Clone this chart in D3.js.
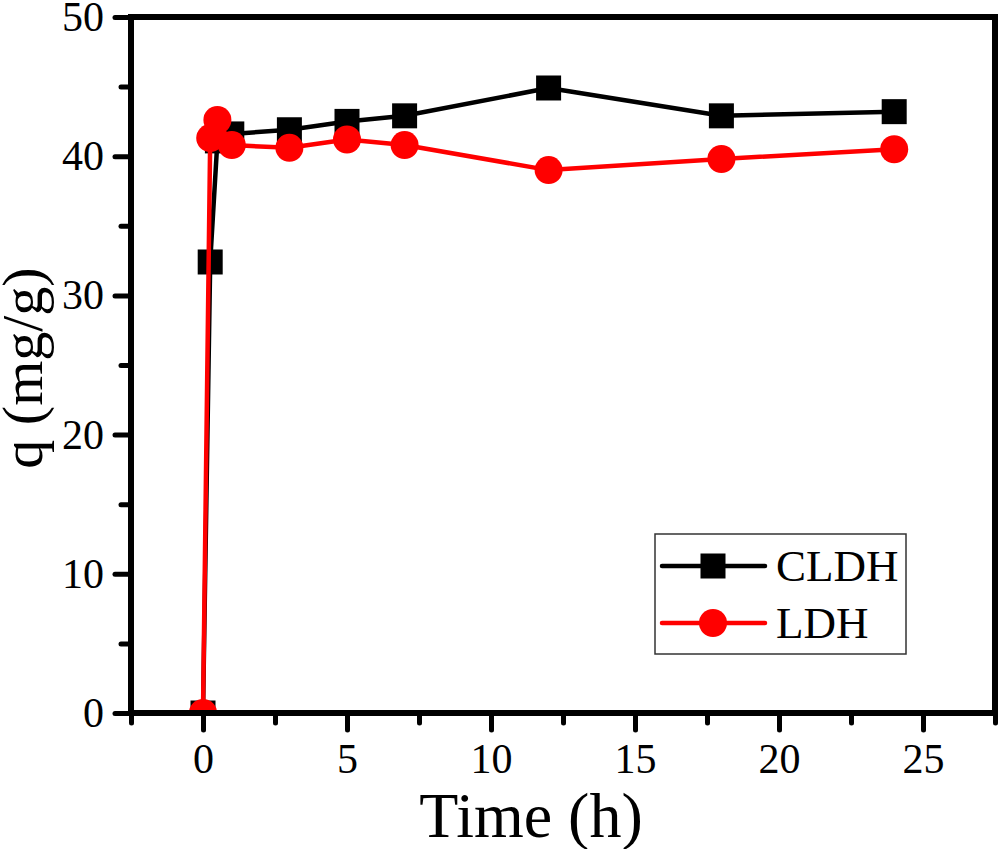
<!DOCTYPE html>
<html>
<head>
<meta charset="utf-8">
<script src="https://cdn.jsdelivr.net/npm/d3@7"></script>
<style>
  body { margin: 0; background: #fff; }
  text { font-family: "Liberation Serif", "Times New Roman", serif; fill: #000; }
</style>
</head>
<body>
<svg id="mainChart" width="1000" height="849"></svg>
<script>
// data
var timeCLDH = [0, 0.25, 0.5, 1, 3, 5, 7, 12, 18, 24];
var qCLDH = [0, 32.4, 41.1, 41.6, 41.9, 42.5, 42.9, 44.9, 42.9, 43.2];
var timeLDH = [0, 0.25, 0.5, 1, 3, 5, 7, 12, 18, 24];
var qLDH = [0, 41.3, 42.6, 40.8, 40.6, 41.2, 40.8, 39.0, 39.8, 40.5];
var xMajor = [0, 5, 10, 15, 20, 25];
var xMinor = [-2.5, 2.5, 7.5, 12.5, 17.5, 22.5, 27.5];
var yMajor = [0, 10, 20, 30, 40, 50];
var yMinor = [5, 15, 25, 35, 45];

var serif = "'Liberation Serif', 'Times New Roman', serif";
var svg = d3.select("#mainChart");
var plotLeft = 131, plotRight = 995, plotTop = 17, plotBottom = 713;

var x = d3.scaleLinear().domain([-2.5, 27.5]).range([plotLeft, plotRight]);
var y = d3.scaleLinear().domain([0, 50]).range([plotBottom, plotTop]);

function pts(xs, ys) {
  return xs.map(function(d, i) { return [d, ys[i]]; });
}
var series = [
  { name: "CLDH", color: "#000", shape: "square", data: pts(timeCLDH, qCLDH) },
  { name: "LDH", color: "#ff0000", shape: "circle", data: pts(timeLDH, qLDH) }
];

svg.append("defs").append("clipPath").attr("id", "plotClip")
  .append("rect")
  .attr("x", plotLeft).attr("y", plotTop)
  .attr("width", plotRight - plotLeft).attr("height", plotBottom - plotTop);

var line = d3.line()
  .x(function(d) { return x(d[0]); })
  .y(function(d) { return y(d[1]); });

var plot = svg.append("g").attr("clip-path", "url(#plotClip)");

series.forEach(function(s) {
  var g = plot.append("g");
  g.append("path")
    .datum(s.data)
    .attr("d", line)
    .attr("fill", "none")
    .attr("stroke", s.color)
    .attr("stroke-width", 4.5)
    .attr("stroke-linejoin", "round");
  if (s.shape === "square") {
    g.selectAll("rect").data(s.data).enter().append("rect")
      .attr("x", function(d) { return x(d[0]) - 12.5; })
      .attr("y", function(d) { return y(d[1]) - 12.5; })
      .attr("width", 25).attr("height", 25)
      .attr("fill", s.color);
  } else {
    g.selectAll("circle").data(s.data).enter().append("circle")
      .attr("cx", function(d) { return x(d[0]); })
      .attr("cy", function(d) { return y(d[1]); })
      .attr("r", 14)
      .attr("fill", s.color);
  }
});

// axes
function styleAxis(g) {
  g.attr("font-family", null);
  g.select(".domain").remove();
  g.selectAll(".tick line")
    .attr("stroke", "#000")
    .attr("stroke-width", 5)
    .attr("stroke-linecap", "round");
  g.selectAll(".tick text")
    .style("font-family", serif)
    .style("font-size", "42px");
}

svg.append("g")
  .attr("transform", "translate(0," + plotBottom + ")")
  .call(d3.axisBottom(x).tickValues(xMinor).tickSize(10).tickFormat(""))
  .call(styleAxis);
svg.append("g")
  .attr("transform", "translate(0," + plotBottom + ")")
  .call(d3.axisBottom(x).tickValues(xMajor).tickSize(17).tickPadding(13).tickFormat(d3.format("d")))
  .call(styleAxis);

svg.append("g")
  .attr("transform", "translate(" + plotLeft + ",0)")
  .call(d3.axisLeft(y).tickValues(yMinor).tickSize(10).tickFormat(""))
  .call(styleAxis);
svg.append("g")
  .attr("transform", "translate(" + plotLeft + ",0)")
  .call(d3.axisLeft(y).tickValues(yMajor).tickSize(16).tickPadding(11).tickFormat(d3.format("d")))
  .call(styleAxis);

// frame
svg.append("rect")
  .attr("x", plotLeft).attr("y", plotTop)
  .attr("width", plotRight - plotLeft).attr("height", plotBottom - plotTop)
  .attr("fill", "none")
  .attr("stroke", "#000")
  .attr("stroke-width", 6);

// axis titles
svg.append("text")
  .attr("x", 531)
  .attr("y", 837)
  .attr("text-anchor", "middle")
  .style("font-family", serif)
  .style("font-size", "64px")
  .text("Time (h)");

svg.append("text")
  .attr("transform", "translate(42,368) rotate(-90)")
  .attr("text-anchor", "middle")
  .style("font-family", serif)
  .style("font-size", "58px")
  .text("q (mg/g)");

// legend
var legend = svg.append("g");
legend.append("rect")
  .attr("x", 655).attr("y", 534)
  .attr("width", 251).attr("height", 120)
  .attr("fill", "#fff")
  .attr("stroke", "#333")
  .attr("stroke-width", 1.5);

series.forEach(function(s, i) {
  var cy = 566 + i * 57;
  var row = legend.append("g");
  row.append("line")
    .attr("x1", 662).attr("x2", 765)
    .attr("y1", cy).attr("y2", cy)
    .attr("stroke", s.color)
    .attr("stroke-width", 4.5)
    .attr("stroke-linecap", "round");
  if (s.shape === "square") {
    row.append("rect")
      .attr("x", 713 - 12.5).attr("y", cy - 12.5)
      .attr("width", 25).attr("height", 25)
      .attr("fill", s.color);
  } else {
    row.append("circle")
      .attr("cx", 713).attr("cy", cy).attr("r", 14)
      .attr("fill", s.color);
  }
  row.append("text")
    .attr("x", 776)
    .attr("y", cy + 15)
    .style("font-family", serif)
    .style("font-size", "45px")
    .text(s.name);
});
</script>
</body>
</html>
